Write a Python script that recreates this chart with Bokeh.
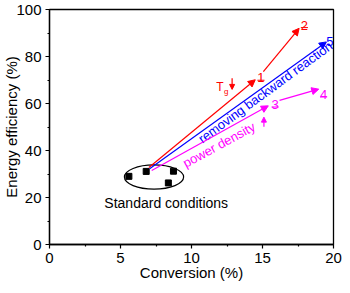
import math
from bokeh.plotting import figure
from bokeh.models import ColumnDataSource, Arrow, NormalHead, Range1d, FixedTicker
from bokeh.core.properties import value
from bokeh.embed import file_html
from bokeh.resources import INLINE

FONT = "Liberation Sans"
RED, BLUE, MAG = "#FF0000", "#0000FF", "#FF00FF"

# standard-condition points
std_x = [5.59, 6.81, 8.37, 8.73]
std_y = [29.0, 31.1, 26.2, 31.2]

# ellipse around standard conditions (centre, width, height in data units)
ell_x = [7.36]
ell_y = [28.7]
ell_w = [4.17]
ell_h = [10.3]

# arrow segments: start -> end
red_x0 = [7.0, 15.06]
red_y0 = [32.8, 73.6]
red_x1 = [14.49, 17.58]
red_y1 = [70.1, 92.0]

blue_x0 = [7.05]
blue_y0 = [32.2]
blue_x1 = [19.5]
blue_y1 = [86.2]

mag_x0 = [7.2, 16.2]
mag_y0 = [31.5, 61.3]
mag_x1 = [15.41, 18.96]
mag_y1 = [59.0, 66.1]

# case numbers (centre x, baseline y)
num_text = ["1", "2", "3", "4", "5"]
num_x = [14.89, 17.95, 15.89, 19.3, 19.74]
num_y = [70.9, 93.3, 59.5, 63.75, 86.5]
num_col = [RED, RED, MAG, MAG, BLUE]
num_under = [True, True, True, True, False]

# small indicator arrows
tg_arrow = dict(x0=[12.86], y0=[70.7], x1=[12.86], y1=[66.0])
pd_arrow = dict(x0=[15.1], y0=[50.1], x1=[15.1], y1=[54.2])

x_ticks = [0, 5, 10, 15, 20]
x_minor = [2.5, 7.5, 12.5, 17.5]
y_ticks = [0, 20, 40, 60, 80, 100]
y_minor = [10, 30, 50, 70, 90]

p = figure(width=342, height=285, output_backend="svg", toolbar_location=None,
           x_range=Range1d(0, 20), y_range=Range1d(0, 100),
           x_axis_label="Conversion (%)", y_axis_label="Energy efficiency (%)",
           min_border_left=43, min_border_right=9, min_border_top=9, min_border_bottom=41)
p.grid.visible = False
p.outline_line_color = "black"
p.outline_line_width = 1.3
p.background_fill_color = "white"
p.border_fill_color = "white"

for ax in (p.xaxis[0], p.yaxis[0]):
    ax.axis_line_width = 1.3
    ax.major_tick_line_width = 1.2
    ax.minor_tick_line_width = 1.2
    ax.major_tick_in = 0
    ax.major_tick_out = 4
    ax.minor_tick_in = 0
    ax.minor_tick_out = 2
    ax.major_label_text_font = FONT
    ax.major_label_text_font_size = "15px"
    ax.major_label_text_color = "black"
    ax.major_label_standoff = 4
    ax.axis_label_text_font = FONT
    ax.axis_label_text_font_size = "15px"
    ax.axis_label_text_font_style = "normal"
    ax.axis_label_text_color = "black"

p.xaxis.ticker = FixedTicker(ticks=x_ticks, minor_ticks=x_minor)
p.yaxis.ticker = FixedTicker(ticks=y_ticks, minor_ticks=y_minor)
p.yaxis.axis_label_standoff = -7
p.xaxis.axis_label_standoff = -2

# ellipse + points
p.ellipse(x=ell_x, y=ell_y, width=ell_w, height=ell_h, fill_color=None,
          line_color="black", line_width=1.2)
p.scatter(std_x, std_y, marker="square", size=6, color="black")

p.text(x=[8.22], y=[17.8], text=["Standard conditions"], text_font=value(FONT),
       text_font_size="14px", text_align="center", text_baseline="alphabetic",
       text_color="black")


def arrows(x0, y0, x1, y1, color, size=7):
    src = ColumnDataSource(dict(x0=x0, y0=y0, x1=x1, y1=y1))
    p.add_layout(Arrow(x_start="x0", y_start="y0", x_end="x1", y_end="y1", source=src,
                       line_color=color, line_width=1.2,
                       end=NormalHead(size=size, fill_color=color, line_color=color,
                                      line_width=1)))


arrows(red_x0, red_y0, red_x1, red_y1, RED)
arrows(blue_x0, blue_y0, blue_x1, blue_y1, BLUE)
arrows(mag_x0, mag_y0, mag_x1, mag_y1, MAG)
arrows(tg_arrow["x0"], tg_arrow["y0"], tg_arrow["x1"], tg_arrow["y1"], RED, size=5)
arrows(pd_arrow["x0"], pd_arrow["y0"], pd_arrow["x1"], pd_arrow["y1"], MAG, size=5)

# numbers with underlines
p.text(x=num_x, y=num_y, text=num_text, text_color=num_col, text_font=value(FONT),
       text_font_size="13px", text_align="center", text_baseline="alphabetic")
ux = [x for x, u in zip(num_x, num_under) if u]
uy = [y for y, u in zip(num_y, num_under) if u]
uc = [c for c, u in zip(num_col, num_under) if u]
p.segment(x0=[x - 0.25 for x in ux], y0=[y - 1.0 for y in uy],
          x1=[x + 0.25 for x in ux], y1=[y - 1.0 for y in uy], line_color=uc, line_width=1)

# T_g
p.text(x=[12.0], y=[67.2], text=["T"], text_color=RED, text_font=value(FONT),
       text_font_size="12px", text_align="center", text_baseline="alphabetic")
p.text(x=[12.28], y=[65.3], text=["g"], text_color=RED, text_font=value(FONT),
       text_font_size="8px", text_align="left", text_baseline="alphabetic")

# rotated annotations
p.text(x=[10.59], y=[44.4], text=["removing backward reaction"], angle=[0.632],
       text_color=BLUE, text_font=value(FONT), text_font_size="13px",
       text_align="left", text_baseline="alphabetic")
p.text(x=[9.46], y=[34.2], text=["power density"], angle=[0.5],
       text_color=MAG, text_font=value(FONT), text_font_size="13px",
       text_align="left", text_baseline="alphabetic")

open("out.html", "w").write(file_html(p, INLINE))
